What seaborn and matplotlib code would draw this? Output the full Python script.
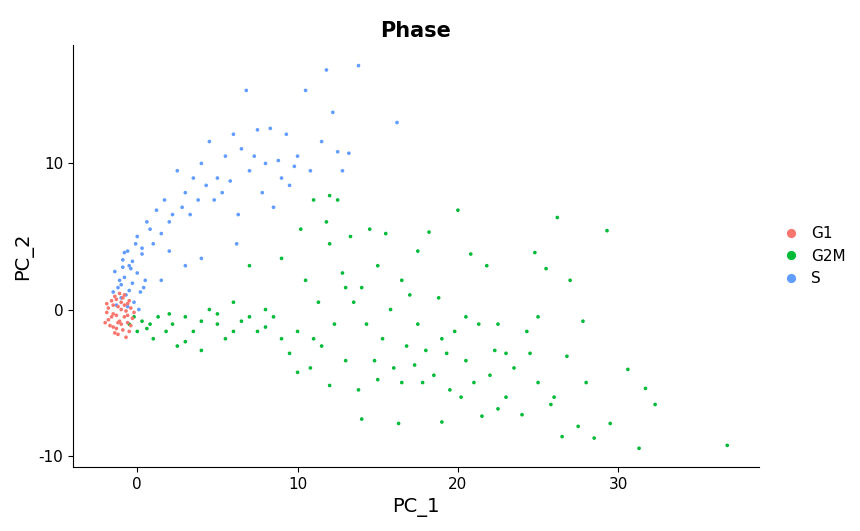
import matplotlib
matplotlib.use("Agg")
import matplotlib.pyplot as plt
import seaborn as sns
import pandas as pd

g1_x = [-1.8,-1.5,-1.2,-1.0,-0.8,-0.6,-1.6,-1.3,-0.9,-0.5,-1.9,-1.1,-0.7,-1.4,-0.4,-1.7,-1.0,-0.6,-1.2,-0.3,-2.0,-1.5,-0.8,-1.3,-0.5,-1.8,-0.9,-1.1,-0.7,-1.6,-0.2,-1.4,-1.0,-0.6,-1.9,-1.2,-0.4,-0.8,-1.5,-1.3]
g1_y = [-0.7,-0.3,0.2,-1.0,-0.5,0.4,0.6,-1.3,0.8,-1.5,-0.2,-0.8,-0.1,0.9,0.1,-1.1,0.5,-0.9,-1.7,-0.6,-0.9,0.3,1.0,-0.4,0.6,0.1,-1.4,1.1,-1.9,-0.5,-0.2,-1.6,0.0,-0.4,0.4,-0.9,-1.1,0.3,-1.2,0.7]

s_x = [-1.2,-0.8,-0.5,-1.0,-0.3,0.0,-0.6,-1.4,-0.9,0.2,-0.2,-1.1,-0.7,0.3,-0.4,-1.3,0.1,-0.8,0.5,-0.1,-1.5,-0.6,0.4,-0.3,-1.0,0.0,0.6,0.3,-0.5,-0.9,
       0.8,1.0,1.2,1.5,1.7,2.0,2.2,2.5,2.8,3.0,3.3,3.5,3.8,4.0,4.3,4.5,4.8,5.0,5.3,5.5,5.8,6.0,6.3,6.5,6.8,7.0,7.3,7.5,7.8,8.0,8.3,8.5,8.8,9.0,9.3,9.5,10.0,10.5,10.8,11.5,11.8,12.2,12.5,12.8,13.2,13.8,1.5,2.0,3.0,4.0,16.2,6.2,9.8]
s_y = [1.5,2.2,3.0,0.8,1.8,2.5,4.0,2.6,3.4,1.2,0.5,2.0,1.0,3.8,2.8,0.3,0.0,3.9,2.0,4.5,1.2,0.2,1.5,3.3,1.7,5.0,6.0,4.2,1.3,2.9,
       5.5,4.5,6.8,5.2,7.5,6.0,6.5,9.5,7.0,8.0,6.5,9.0,7.5,10.0,8.5,11.5,7.5,9.0,8.0,10.5,8.8,12.0,6.5,11.0,15.0,9.5,10.5,12.3,8.0,10.0,12.4,7.0,10.2,9.0,12.0,8.5,10.5,15.0,9.5,11.5,16.4,13.5,10.8,9.5,10.7,16.7,2.0,4.0,3.0,3.5,12.8,4.5,9.8]

g2m_x = [-0.5,0.0,0.3,0.6,1.0,1.3,0.8,-0.2,1.8,2.2,2.5,3.0,3.5,4.0,4.5,5.0,5.5,6.0,6.5,7.0,7.5,8.0,8.5,9.0,9.5,10.0,10.2,10.5,10.8,11.0,11.3,11.5,11.8,12.0,12.3,12.5,12.8,13.0,13.3,13.5,13.8,14.0,14.3,14.5,14.8,15.0,15.3,15.5,15.8,16.0,16.3,16.5,16.8,17.0,17.3,17.5,17.8,18.0,18.2,18.5,18.8,19.0,19.3,19.5,19.8,20.0,20.2,20.5,20.8,21.0,21.3,21.5,21.8,22.0,22.3,22.5,23.0,23.5,24.0,24.3,24.8,25.0,25.5,25.8,26.2,26.5,26.8,27.0,27.5,27.8,28.0,28.5,29.3,29.5,30.6,31.3,31.7,32.3,36.8,9.0,8.0,7.0,6.0,5.0,4.0,3.0,2.0,14.0,12.0,11.0,10.0,13.0,15.0,16.5,17.5,19.0,20.5,22.5,24.5,26.0,23.0,25.0,12.0]
g2m_y = [-1.0,-1.5,-0.8,-1.3,-2.0,-0.5,-1.0,-0.5,-1.5,-1.0,-2.5,-0.5,-1.5,-2.8,0.0,-1.0,-2.0,0.5,-0.8,3.0,-1.5,0.0,-0.5,3.5,-3.0,-1.5,5.5,2.0,-4.0,7.5,0.5,-2.5,6.0,4.5,-1.0,7.5,2.5,-3.5,5.0,0.5,-5.5,1.5,-1.0,5.5,-3.5,3.0,-2.0,5.2,0.0,-4.0,-7.8,2.0,-2.5,1.0,-3.8,4.0,-5.0,-2.8,5.3,-4.5,0.8,-7.7,-3.0,-5.5,-1.5,6.8,-6.0,-3.5,3.8,-5.0,-1.0,-7.3,3.0,-4.5,-2.8,-6.8,-3.0,-4.0,-7.2,-1.5,3.9,-5.0,2.8,-6.5,6.3,-8.7,-3.2,2.0,-8.0,-0.8,-5.0,-8.8,5.4,-7.8,-4.1,-9.5,-5.4,-6.5,-9.3,-2.0,-1.2,-0.5,-1.5,-0.3,-0.8,-2.2,-0.3,-7.5,-5.2,-2.0,-4.3,1.5,-4.8,-5.0,-1.0,-2.0,-0.5,-1.0,-3.0,-6.0,-6.0,-0.5,7.8]

df = pd.concat([
    pd.DataFrame({"PC_1": s_x, "PC_2": s_y, "Phase": "S"}),
    pd.DataFrame({"PC_1": g2m_x, "PC_2": g2m_y, "Phase": "G2M"}),
    pd.DataFrame({"PC_1": g1_x, "PC_2": g1_y, "Phase": "G1"}),
])

sns.set_style("ticks")
plt.rcParams["axes.unicode_minus"] = False
fig, ax = plt.subplots(figsize=(8.6, 5.31), dpi=100)
fig.subplots_adjust(left=0.085, right=0.882, top=0.915, bottom=0.12)
sns.scatterplot(data=df, x="PC_1", y="PC_2", hue="Phase", hue_order=["G1", "G2M", "S"],
                palette=["#F8766D", "#00BA38", "#619CFF"], s=7, linewidth=0, ax=ax)
ax.set_xlim(-4, 38.75)
ax.set_ylim(-10.8, 18.1)
ax.set_xticks([0, 10, 20, 30])
ax.set_yticks([-10, 0, 10])
ax.set_xlabel("PC_1", fontsize=14, color="black")
ax.set_ylabel("PC_2", fontsize=14, color="black")
ax.set_title("Phase", fontsize=15, fontweight="bold", color="black")
ax.tick_params(labelsize=11, colors="black")
for sp in ax.spines.values():
    sp.set_color("black")
sns.despine(ax=ax)
leg = ax.legend(loc="center left", bbox_to_anchor=(1.005, 0.5), frameon=False,
                markerscale=2.5, fontsize=11, handletextpad=0.3)
for t in leg.get_texts():
    t.set_color("black")
fig.savefig("out.png", dpi=100)
